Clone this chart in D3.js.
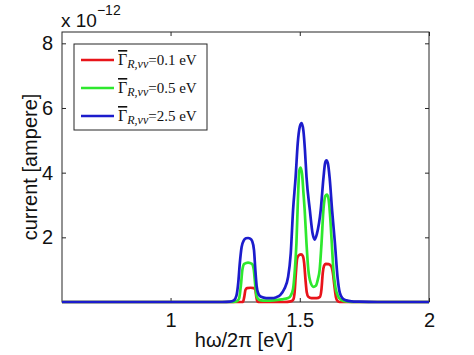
<!DOCTYPE html>
<html><head><meta charset="utf-8">
<script src="https://cdn.jsdelivr.net/npm/d3@7"></script>
<style>body{margin:0;background:#fff}svg{display:block}</style>
</head><body>
<svg id="c" width="474" height="355"></svg>
<script>
// ---- data ----
const xTicks = [1, 1.5, 2];
const yTicks = [2, 4, 6, 8];
const legendLabels = ["0.1 eV", "0.5 eV", "2.5 eV"];
const seriesColors = ["#e8141a", "#2ee82e", "#1c1ccc"];

const redX = [0.58,1.27,1.280,1.285,1.290,1.296,1.310,1.322,1.328,1.332,1.336,1.34,1.44,1.465,1.475,1.480,1.485,1.490,1.497,1.505,1.512,1.517,1.522,1.527,1.533,1.545,1.565,1.578,1.584,1.589,1.594,1.600,1.612,1.622,1.628,1.634,1.640,1.646,1.655,2.0];
const redY = [0,0,0,0.15,0.38,0.43,0.44,0.43,0.38,0.15,0.02,0,0,0.02,0.08,0.3,0.9,1.35,1.45,1.47,1.42,1.2,0.7,0.3,0.16,0.12,0.12,0.16,0.4,0.9,1.12,1.18,1.17,1.1,0.9,0.5,0.15,0.03,0,0];

const greenX = [0.58,1.23,1.255,1.265,1.272,1.278,1.285,1.300,1.315,1.322,1.328,1.334,1.345,1.37,1.40,1.43,1.455,1.465,1.474,1.481,1.487,1.493,1.498,1.503,1.509,1.514,1.519,1.526,1.533,1.542,1.553,1.562,1.570,1.577,1.584,1.592,1.599,1.605,1.611,1.617,1.624,1.630,1.638,1.648,1.66,1.68,1.72,2.0];
const greenY = [0,0,0.02,0.1,0.5,1.0,1.18,1.22,1.18,1.0,0.5,0.15,0.06,0.04,0.05,0.08,0.12,0.2,0.4,1.0,1.8,3.2,4.05,4.16,3.95,3.4,2.84,1.81,1.0,0.6,0.47,0.5,0.7,1.0,1.8,2.9,3.28,3.32,3.2,2.7,1.8,1.0,0.45,0.18,0.07,0.02,0,0];

const blueX = [0.58,1.20,1.23,1.245,1.255,1.262,1.268,1.275,1.283,1.292,1.300,1.308,1.316,1.323,1.328,1.333,1.34,1.35,1.37,1.39,1.41,1.425,1.44,1.455,1.465,1.474,1.484,1.492,1.500,1.507,1.514,1.520,1.526,1.539,1.550,1.558,1.566,1.581,1.592,1.598,1.603,1.609,1.616,1.625,1.636,1.646,1.655,1.665,1.68,1.70,1.73,1.80,2.0];
const blueY = [0,0,0.01,0.05,0.2,0.6,1.2,1.7,1.9,1.97,1.98,1.96,1.88,1.6,1.0,0.5,0.25,0.16,0.12,0.12,0.15,0.22,0.4,0.78,1.5,2.84,3.87,4.9,5.42,5.53,5.3,4.7,3.87,2.84,2.1,1.93,2.1,2.84,3.87,4.3,4.38,4.28,3.8,2.84,1.82,0.78,0.28,0.12,0.05,0.02,0.01,0,0];

// ---- layout ----
const svg = d3.select("#c");
const L = 62, R = 429, T = 32, B = 302;
const x = d3.scaleLinear().domain([0.58, 2]).range([L, R]);
const y = d3.scaleLinear().domain([0, 8.35]).range([B, T]);
const axisColor = "#262626";
const tickFont = "Liberation Sans, Arial, sans-serif";

// frame
svg.append("rect").attr("x", L).attr("y", T).attr("width", R - L).attr("height", B - T)
  .attr("fill", "none").attr("stroke", axisColor).attr("stroke-width", 1);

// axes with inward ticks
const gx = svg.append("g").attr("transform", `translate(0,${B})`)
  .call(d3.axisBottom(x).tickValues(xTicks).tickSizeInner(-4).tickSizeOuter(0).tickPadding(11).tickFormat(d3.format("")));
const gxt = svg.append("g").attr("transform", `translate(0,${T})`)
  .call(d3.axisTop(x).tickValues(xTicks).tickSizeInner(-4).tickSizeOuter(0).tickFormat(""));
const gy = svg.append("g").attr("transform", `translate(${L},0)`)
  .call(d3.axisLeft(y).tickValues(yTicks).tickSizeInner(-4).tickSizeOuter(0).tickPadding(9));
const gyr = svg.append("g").attr("transform", `translate(${R},0)`)
  .call(d3.axisRight(y).tickValues(yTicks).tickSizeInner(-4).tickSizeOuter(0).tickFormat(""));
[gx, gxt, gy, gyr].forEach(g => {
  g.select(".domain").remove();
  g.selectAll("line").attr("stroke", axisColor);
  g.selectAll("text").attr("font-family", tickFont).attr("font-size", 20).attr("fill", "#111");
});

// lines
const line = d3.line().x(d => x(d[0])).y(d => y(d[1])).curve(d3.curveMonotoneX);
const series = [d3.zip(redX, redY), d3.zip(greenX, greenY), d3.zip(blueX, blueY)];
series.forEach((s, i) => {
  svg.append("path").datum(s).attr("d", line).attr("fill", "none")
    .attr("stroke", seriesColors[i]).attr("stroke-width", 2.7).attr("stroke-linejoin", "round");
});

// axis labels
svg.append("text").attr("x", 244).attr("y", 347).attr("text-anchor", "middle")
  .attr("font-family", tickFont).attr("font-size", 20).attr("fill", "#111").text("hω/2π [eV]");
svg.append("text").attr("transform", "translate(37,167) rotate(-90)").attr("text-anchor", "middle")
  .attr("font-family", tickFont).attr("font-size", 20).attr("fill", "#111").text("current [ampere]");

// exponent
const ex = svg.append("text").attr("x", 61).attr("y", 27).attr("font-family", tickFont).attr("fill", "#111");
ex.append("tspan").attr("font-size", 19).text("x 10");
ex.append("tspan").attr("font-size", 14).attr("dy", -12).text("−12");

// legend
const lg = svg.append("g");
lg.append("rect").attr("x", 74).attr("y", 44).attr("width", 133).attr("height", 86)
  .attr("fill", "#fff").attr("stroke", axisColor).attr("stroke-width", 1);
legendLabels.forEach((lab, i) => {
  const cy = 60 + i * 28;
  lg.append("line").attr("x1", 81).attr("x2", 114).attr("y1", cy).attr("y2", cy)
    .attr("stroke", seriesColors[i]).attr("stroke-width", 2.7);
  const t = lg.append("text").attr("x", 118).attr("y", cy + 5)
    .attr("font-family", "Liberation Serif, DejaVu Serif, serif").attr("fill", "#111");
  t.append("tspan").attr("font-size", 16).style("text-decoration", "overline").text("Γ");
  t.append("tspan").attr("font-size", 12).attr("font-style", "italic").attr("dy", 3).text("R,vv");
  t.append("tspan").attr("font-size", 15).attr("dy", -3).text("=" + lab);
});
</script>
</body></html>
